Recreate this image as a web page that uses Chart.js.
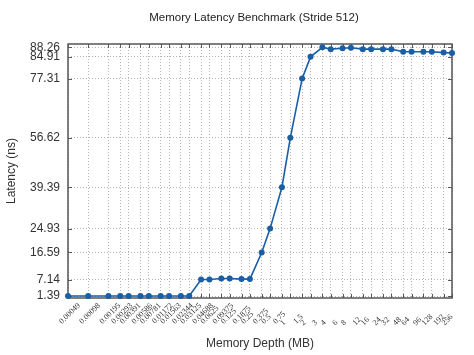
<!DOCTYPE html>
<html><head><meta charset="utf-8">
<script src="https://cdn.jsdelivr.net/npm/chart.js@4.4.1/dist/chart.umd.min.js"></script>
<style>html,body{margin:0;padding:0;background:#fff}</style>
</head><body>
<canvas id="c" width="474" height="355"></canvas>
<script>
const depthMB = [0.00048828125, 0.0009765625, 0.001953125, 0.0029296875, 0.00390625, 0.005859375, 0.0078125, 0.01171875, 0.015625, 0.0234375, 0.03125, 0.046875, 0.0625, 0.09375, 0.125, 0.1875, 0.25, 0.375, 0.5, 0.75, 1, 1.5, 2, 3, 4, 6, 8, 12, 16, 24, 32, 48, 64, 96, 128, 192, 256];
const depthLabels = ['0.00049','0.00098','0.00195','0.00293','0.00391','0.00586','0.00781','0.01172','0.01563','0.02344','0.03125','0.04688','0.0625','0.09375','0.125','0.1875','0.25','0.375','0.5','0.75','1','1.5','2','3','4','6','8','12','16','24','32','48','64','96','128','192','256'];
const latencyNs = [1.39,1.39,1.39,1.39,1.39,1.39,1.39,1.39,1.39,1.39,1.39,
  7.14,7.14,7.5,7.5,7.3,7.3,
  16.59,24.93,39.39,56.62,77.31,84.91,88.26,
  87.6,87.9,88.1,87.6,87.6,87.6,87.6,86.7,86.7,86.7,86.7,86.4,86.3];
const latencyTicks = [1.39,7.14,16.59,24.93,39.39,56.62,77.31,84.91,88.26];

const frame = {
  id: 'frame',
  afterLayout(chart) {
    const tb = chart.titleBlock;
    if (tb) { tb.left = chart.chartArea.left - 12; tb.right = chart.chartArea.right; tb.width = tb.right - tb.left; }
  },
  beforeDatasetsDraw(chart) {
    const {ctx, chartArea: {left, right, top, bottom}, scales: {x, y}} = chart;
    ctx.save();
    ctx.strokeStyle = '#5a5a5a';
    ctx.lineWidth = 1;
    ctx.beginPath();
    x.ticks.forEach(t => {
      const px = Math.round(x.getPixelForValue(t.value)) + 0.5;
      ctx.moveTo(px, bottom); ctx.lineTo(px, bottom - 4);
      ctx.moveTo(px, top); ctx.lineTo(px, top + 4);
    });
    y.ticks.forEach(t => {
      const py = Math.round(y.getPixelForValue(t.value)) + 0.5;
      ctx.moveTo(left, py); ctx.lineTo(left + 4, py);
      ctx.moveTo(right, py); ctx.lineTo(right - 4, py);
    });
    ctx.stroke();
    ctx.lineWidth = 1.5;
    ctx.strokeStyle = '#555';
    ctx.strokeRect(left, top, right - left, bottom - top);
    ctx.restore();
  }
};

Chart.defaults.font.family = "'Liberation Sans', Arial, sans-serif";
Chart.defaults.color = '#333';

new Chart(document.getElementById('c'), {
  type: 'line',
  data: {
    datasets: [{
      data: depthMB.map((v, i) => ({x: v, y: latencyNs[i]})),
      borderColor: '#1a5ea6',
      backgroundColor: '#1a5ea6',
      borderWidth: 1.6,
      pointRadius: 3,
      pointBorderWidth: 0,
      pointHoverRadius: 3,
      tension: 0,
      clip: false
    }]
  },
  options: {
    responsive: false,
    devicePixelRatio: 1,
    animation: false,
    layout: {padding: {left: 0, right: 22, top: 0, bottom: 0}},
    plugins: {
      legend: {display: false},
      tooltip: {enabled: false},
      title: {
        display: true,
        text: 'Memory Latency Benchmark (Stride 512)',
        color: '#222',
        font: {size: 11.5, weight: 'normal'},
        padding: {top: 11, bottom: 19.2}
      }
    },
    scales: {
      x: {
        type: 'logarithmic',
        min: depthMB[0],
        max: depthMB[depthMB.length - 1],
        afterBuildTicks: s => { s.ticks = depthMB.map(v => ({value: v})); },
        afterFit: s => { s.height = 57; },
        grid: {color: '#b4b4b4', lineWidth: 1, drawTicks: false, tickLength: 0},
        border: {display: false, dash: [1, 2]},
        ticks: {
          autoSkip: false,
          minRotation: 45,
          maxRotation: 45,
          padding: 3,
          labelOffset: 11,
          color: '#333',
          font: {family: "'Liberation Serif', 'Times New Roman', serif", size: 8},
          callback: (v, i) => depthLabels[i].padEnd(7, '\u2007')
        },
        title: {display: true, text: 'Memory Depth (MB)', color: '#333', font: {size: 12}, padding: {top: 2, bottom: 4}}
      },
      y: {
        min: 0.7,
        max: 89.4,
        afterBuildTicks: s => { s.ticks = latencyTicks.map(v => ({value: v})); },
        afterFit: s => { s.width = 68; },
        grid: {color: '#b4b4b4', lineWidth: 1, drawTicks: false, tickLength: 0},
        border: {display: false, dash: [1, 2]},
        ticks: {
          autoSkip: false,
          padding: 8,
          color: '#333',
          font: {size: 12},
          callback: v => Number(v).toFixed(2)
        },
        title: {display: true, text: 'Latency (ns)', color: '#333', font: {size: 12}, padding: {top: 4, bottom: 4}}
      }
    }
  },
  plugins: [frame]
});
</script>
</body></html>
